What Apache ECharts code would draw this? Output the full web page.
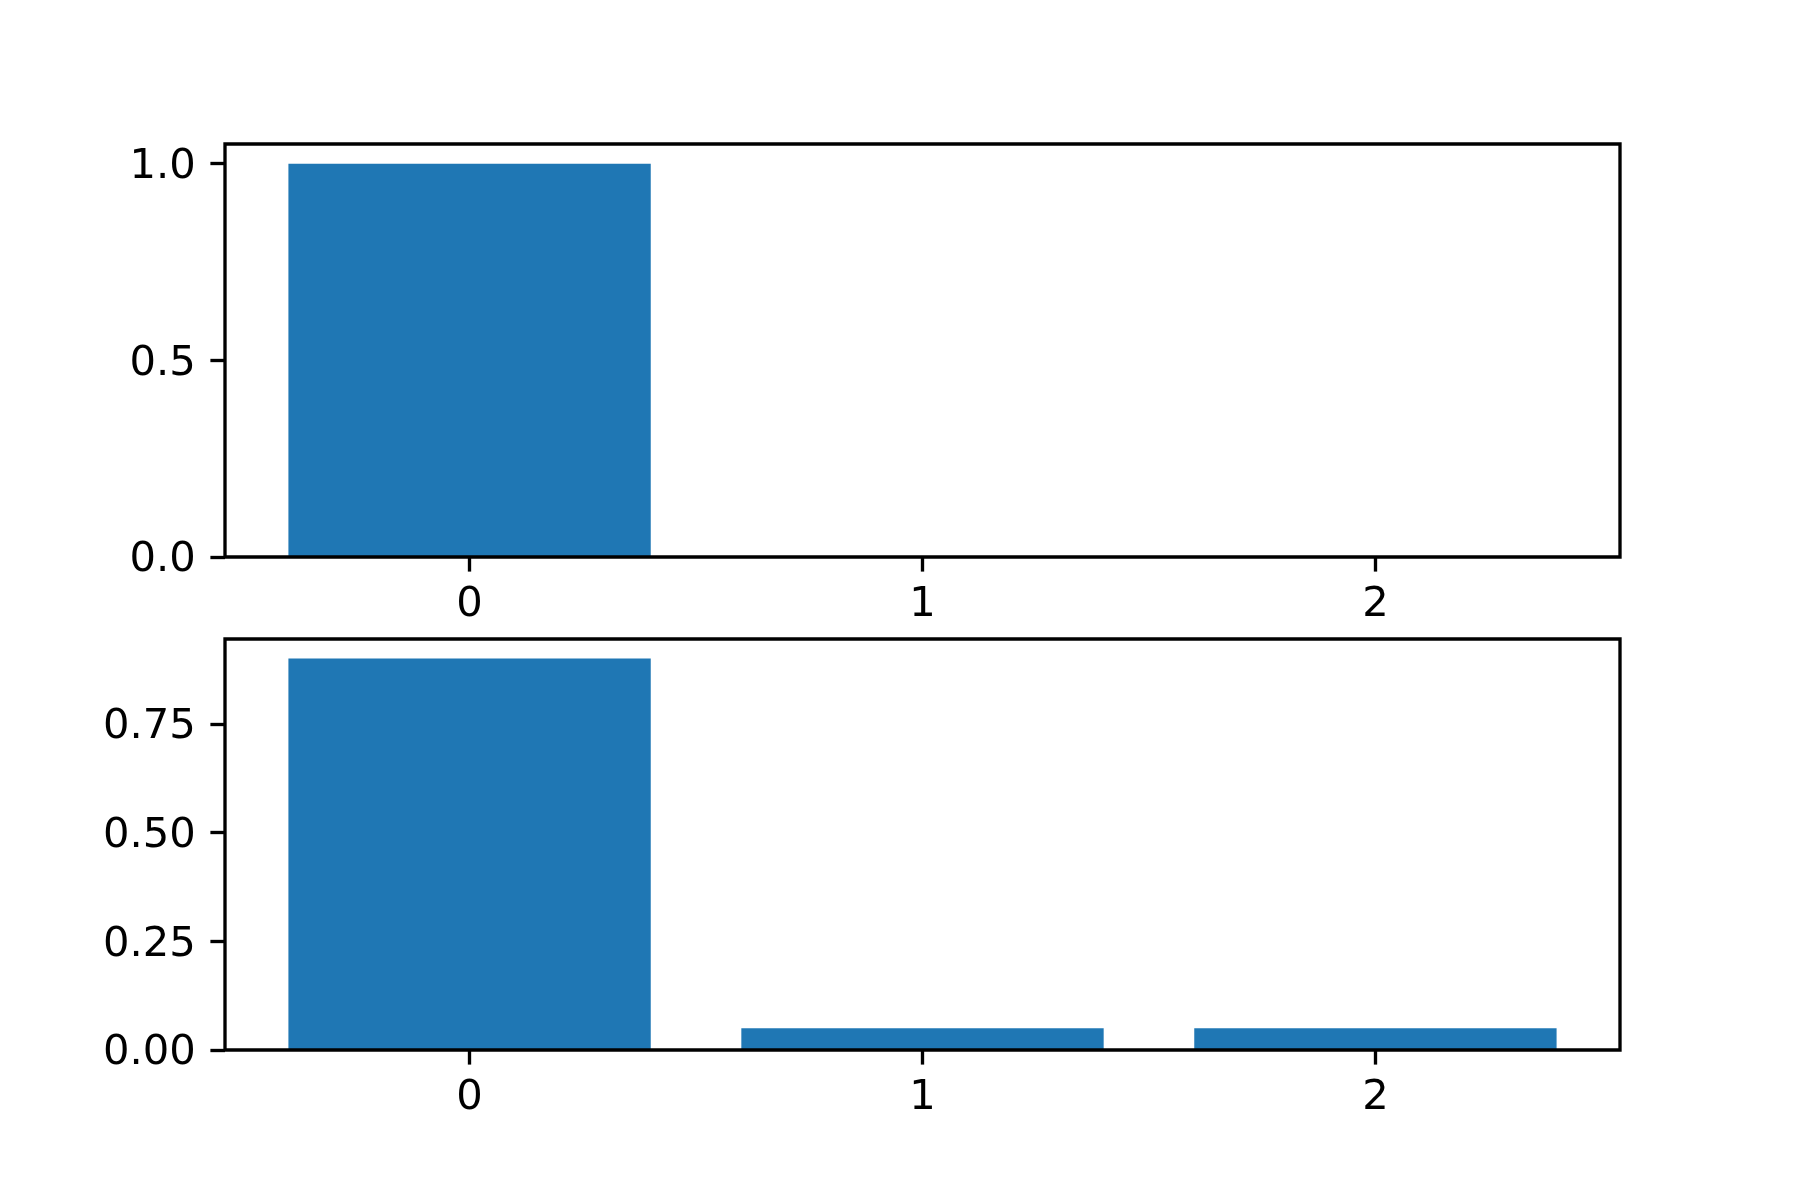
<!DOCTYPE html>
<html>
<head>
<meta charset="utf-8">
<script src="https://cdn.jsdelivr.net/npm/echarts@6/dist/echarts.min.js"></script>
<style>
html,body{margin:0;padding:0;background:#fff;}
#chart{width:1800px;height:1200px;}
</style>
</head>
<body>
<div id="chart"></div>
<script>
// Data
const categories = [0, 1, 2];
const topValues = [1.0, 0.0, 0.0];
const bottomValues = [0.9, 0.05, 0.05];
const topTicks = [0.0, 0.5, 1.0];
const bottomTicks = [0.0, 0.25, 0.5, 0.75];
const xTicks = [0, 1, 2];

// Layout / style
const W = 1800, H = 1200;
const gridLeft = 225, gridRight = 180;
const plotW = W - gridLeft - gridRight;
const barRel = 0.8;
const xMin = -0.54, xMax = 2.54;
const barPx = plotW / (xMax - xMin) * barRel;
const lw = 3.33;
const fs = 41.7;
const tickLen = 14.6;
const pad = 14.6;
const font = 'DejaVu Sans';
const barColor = '#1f77b4';

function xAxisDef(gi) {
  return {
    type: 'value', gridIndex: gi, min: xMin, max: xMax, position: 'bottom',
    axisLine: {show: false, onZero: false},
    splitLine: {show: false},
    axisTick: {show: true, inside: false, length: tickLen, lineStyle: {color: '#000', width: lw}, customValues: xTicks},
    axisLabel: {show: true, margin: tickLen + pad - 2, color: '#000', fontFamily: font, fontSize: fs, customValues: xTicks,
      formatter: v => String(v)}
  };
}
function yAxisDef(gi, max, ticks, dec) {
  return {
    type: 'value', gridIndex: gi, min: 0, max: max, position: 'left',
    axisLine: {show: false, onZero: false},
    splitLine: {show: false},
    axisTick: {show: true, inside: false, length: tickLen, lineStyle: {color: '#000', width: lw}, customValues: ticks},
    axisLabel: {show: true, margin: tickLen + pad, color: '#000', fontFamily: font, fontSize: fs, customValues: ticks,
      rich: {t: {fontFamily: font, fontSize: fs, color: '#000', padding: [7, 0, 0, 0]}},
      formatter: v => '{t|' + Number(v).toFixed(dec) + '}'}
  };
}

const topMax = Math.max(...topValues) * 1.05;
const bottomMax = Math.max(...bottomValues) * 1.05;

const chart = echarts.init(document.getElementById('chart'), null, {renderer: 'canvas', width: W, height: H});
chart.setOption({
  animation: false,
  backgroundColor: '#fff',
  grid: [
    {left: gridLeft, right: gridRight, top: 144, height: 413, show: true, borderColor: '#000', borderWidth: lw, backgroundColor: 'transparent', z: 5},
    {left: gridLeft, right: gridRight, top: 639, height: 411, show: true, borderColor: '#000', borderWidth: lw, backgroundColor: 'transparent', z: 5}
  ],
  xAxis: [xAxisDef(0), xAxisDef(1)],
  yAxis: [yAxisDef(0, topMax, topTicks, 1), yAxisDef(1, bottomMax, bottomTicks, 2)],
  series: [
    {type: 'bar', xAxisIndex: 0, yAxisIndex: 0, barWidth: barPx, z: 1,
      itemStyle: {color: barColor}, data: categories.map((c, i) => [c, topValues[i]])},
    {type: 'bar', xAxisIndex: 1, yAxisIndex: 1, barWidth: barPx, z: 1,
      itemStyle: {color: barColor}, data: categories.map((c, i) => [c, bottomValues[i]])}
  ]
});
</script>
</body>
</html>
